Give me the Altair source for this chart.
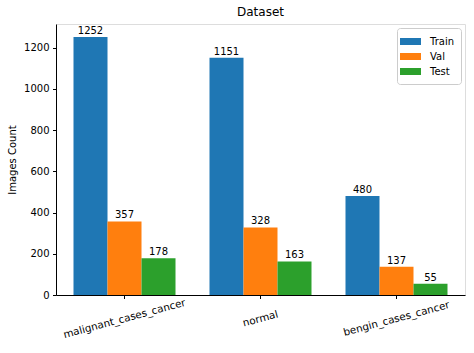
import altair as alt
import pandas as pd

categories = ["malignant_cases_cancer", "normal", "bengin_cases_cancer"]
splits = ["Train", "Val", "Test"]
train = [1252, 1151, 480]
val = [357, 328, 137]
test = [178, 163, 55]
colors = ["#1f77b4", "#ff7f0e", "#2ca02c"]

rows = []
for i, c in enumerate(categories):
    for s, vals in zip(splits, [train, val, test]):
        rows.append({"category": c, "split": s, "count": vals[i]})
df = pd.DataFrame(rows)

font = "DejaVu Sans"
ymax = max(train) * 1.05

x_enc = alt.X(
    "category:N",
    sort=categories,
    title=None,
    scale=alt.Scale(paddingInner=0.25, paddingOuter=0.1287),
    axis=alt.Axis(
        labelAngle=345,
        labelAlign="center",
        labelBaseline="middle",
        labelPadding=20,
        labelFontSize=10.3,
        labelColor="black",
        labelFont=font,
        tickColor="black",
        tickSize=3.5,
        domainColor="black",
        grid=False,
    ),
)
xoff = alt.XOffset("split:N", sort=splits, scale=alt.Scale(paddingInner=0, paddingOuter=0))
y_enc = alt.Y(
    "count:Q",
    scale=alt.Scale(domain=[0, ymax], nice=False),
    axis=alt.Axis(
        values=[0, 200, 400, 600, 800, 1000, 1200],
        format="d",
        title="Images Count",
        titleFont=font,
        titleFontSize=10,
        titleFontWeight="normal",
        titleColor="black",
        titlePadding=6,
        labelFontSize=10,
        labelColor="black",
        labelFont=font,
        tickColor="black",
        tickSize=3.5,
        labelPadding=3.5,
        domainColor="black",
        grid=False,
    ),
)

bars = alt.Chart(df).mark_bar().encode(
    x=x_enc,
    xOffset=xoff,
    y=y_enc,
    color=alt.Color(
        "split:N",
        sort=splits,
        scale=alt.Scale(domain=splits, range=colors),
        legend=alt.Legend(
            title=None,
            orient="top-right",
            offset=4,
            fillColor="white",
            strokeColor="#cccccc",
            cornerRadius=3,
            padding=7,
            rowPadding=3,
            symbolType="M-1.615,-0.54L1.615,-0.54L1.615,0.54L-1.615,0.54Z",
            symbolSize=169,
            symbolStrokeWidth=0,
            labelOffset=13,
            labelFontSize=10,
            labelFont=font,
            labelColor="black",
        ),
    ),
)

labels = alt.Chart(df).mark_text(
    baseline="bottom", dy=-1, fontSize=10, font=font, color="black"
).encode(
    x=alt.X("category:N", sort=categories),
    xOffset=alt.XOffset("split:N", sort=splits),
    y=alt.Y("count:Q"),
    text=alt.Text("count:Q"),
)

chart = (
    alt.layer(bars, labels)
    .properties(
        width=409,
        height=271,
        title=alt.Title("Dataset", font=font, fontSize=12, fontWeight="normal", color="black", offset=5),
        autosize=alt.AutoSizeParams(type="none"),
        padding={"left": 56, "top": 24, "right": 9, "bottom": 58},
    )
    .configure_view(stroke="black", strokeWidth=1)
    .configure(background="white")
)

chart.save("out.html", embed_options={"renderer": "svg", "actions": False})
